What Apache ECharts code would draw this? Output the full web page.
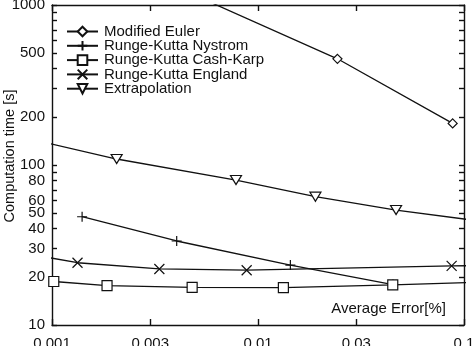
<!DOCTYPE html>
<html>
<head>
<meta charset="utf-8">
<script src="https://cdn.jsdelivr.net/npm/echarts@6/dist/echarts.min.js"></script>
<style>
  html, body { margin: 0; padding: 0; background: #fff; }
  #chart { width: 474px; height: 346px; }
</style>
</head>
<body>
<div id="chart"></div>
<script>
// Average error [%] against computation time [s] for each integrator
const eulerErr   = [0.0035, 0.0243, 0.0881];
const eulerTime  = [1400, 461, 182];
const nystromErr  = [0.0014, 0.00403, 0.01436, 0.0452];
const nystromTime = [47.5, 33.5, 23.7, 17.9];
const cashKarpErr  = [0.00102, 0.00185, 0.00479, 0.01328, 0.0451, 0.15];
const cashKarpTime = [18.7, 17.6, 17.2, 17.1, 17.8, 18.7];
const englandErr  = [0.0007, 0.00133, 0.00332, 0.00881, 0.0871, 0.15];
const englandTime = [28.4, 24.5, 22.4, 22.0, 23.4, 23.6];
const extrapErr  = [0.0007, 0.00206, 0.00782, 0.0190, 0.0468, 0.15];
const extrapTime = [150, 109, 80.5, 63.4, 52.3, 42.9];

const seriesNames = ['Modified Euler', 'Runge-Kutta Nystrom', 'Runge-Kutta Cash-Karp', 'Runge-Kutta England', 'Extrapolation'];

// Axis ticks and labels
const xTickValues = [0.001, 0.003, 0.01, 0.03, 0.1];
const xTickLabels = ['0.001', '0.003', '0.01', '0.03', '0.1'];
const yLabelValues = [10, 20, 30, 40, 50, 60, 80, 100, 200, 500, 1000];
const yLabelTexts = ['10', '20', '30', '40', '50', '60', '80', '100', '200', '500', '1000'];
const yTickValues = [10, 20, 30, 40, 50, 60, 70, 80, 90, 100, 200, 300, 400, 500, 600, 700, 800, 900, 1000];

const FONT = '"Liberation Sans", Arial, sans-serif';
const INK = '#111';

function pairs(xs, ys) { return xs.map((x, i) => [x, ys[i]]); }
function nearestLabel(values, texts) {
  return function (v) {
    let best = 0;
    for (let i = 1; i < values.length; i++) {
      if (Math.abs(Math.log(values[i] / v)) < Math.abs(Math.log(values[best] / v))) best = i;
    }
    return texts[best];
  };
}

const symbols = {
  diamond: 'path://M5,0L10,5L5,10L0,5Z',
  plus: 'path://M0,5H10M5,0V10',
  square: 'path://M0,0H10V10H0Z',
  cross: 'path://M0,0L10,10M10,0L0,10',
  triDown: 'path://M0,0H12L6,10Z'
};

function makeSeries(name, xs, ys, symbol, size) {
  return {
    name: name,
    type: 'line',
    data: pairs(xs, ys),
    symbol: symbol,
    symbolSize: size,
    showAllSymbol: true,
    clip: true,
    lineStyle: { color: INK, width: 1.3 },
    itemStyle: { color: '#fff', borderColor: INK, borderWidth: 1.2 },
    emphasis: { disabled: true },
    animation: false
  };
}

const axisLineStyle = { color: INK, width: 1.4 };

const chart = echarts.init(document.getElementById('chart'));
chart.setOption({
  animation: false,
  grid: { left: 52, right: 10, top: 5, bottom: 21, show: false, outerBoundsMode: 'none', containLabel: false },
  legend: {
    data: seriesNames,
    orient: 'vertical',
    left: 66,
    top: 24,
    padding: 0,
    itemGap: -0.7,
    itemWidth: 31,
    itemHeight: 12,
    textStyle: { fontFamily: FONT, fontSize: 15, color: INK, padding: [0, 0, 0, 1] },
    selectedMode: false
  },
  xAxis: [
    {
      type: 'log', min: 0.001, max: 0.1, position: 'bottom',
      axisLine: { show: true, onZero: false, lineStyle: axisLineStyle },
      axisTick: { show: true, inside: true, length: 6, customValues: xTickValues, lineStyle: axisLineStyle },
      axisLabel: { customValues: xTickValues, formatter: nearestLabel(xTickValues, xTickLabels),
                   fontFamily: FONT, fontSize: 15, color: INK, margin: 11 },
      splitLine: { show: false }, minorTick: { show: false }
    },
    {
      type: 'log', min: 0.001, max: 0.1, position: 'top',
      axisLine: { show: true, onZero: false, lineStyle: axisLineStyle },
      axisTick: { show: true, inside: true, length: 6, customValues: xTickValues, lineStyle: axisLineStyle },
      axisLabel: { show: false },
      splitLine: { show: false }, minorTick: { show: false }
    }
  ],
  yAxis: [
    {
      type: 'log', min: 10, max: 1000, position: 'left',
      axisLine: { show: true, onZero: false, lineStyle: axisLineStyle },
      axisTick: { show: true, inside: true, length: 5, customValues: yTickValues, lineStyle: axisLineStyle },
      axisLabel: { customValues: yLabelValues, formatter: nearestLabel(yLabelValues, yLabelTexts),
                   fontFamily: FONT, fontSize: 15, color: INK, margin: 7 },
      splitLine: { show: false }, minorTick: { show: false }
    },
    {
      type: 'log', min: 10, max: 1000, position: 'right',
      axisLine: { show: true, onZero: false, lineStyle: axisLineStyle },
      axisTick: { show: true, inside: true, length: 5, customValues: yTickValues, lineStyle: axisLineStyle },
      axisLabel: { show: false },
      splitLine: { show: false }, minorTick: { show: false }
    }
  ],
  graphic: [
    {
      type: 'text', x: 10, y: 156, rotation: Math.PI / 2,
      style: { text: 'Computation time [s]', fontFamily: FONT, fontSize: 14.5, fill: INK,
               textAlign: 'center', textVerticalAlign: 'middle' }
    },
    {
      type: 'text', x: 446, y: 309,
      style: { text: 'Average Error[%]', fontFamily: FONT, fontSize: 15, fill: INK,
               textAlign: 'right', textVerticalAlign: 'middle' }
    }
  ],
  series: [
    makeSeries(seriesNames[0], eulerErr, eulerTime, symbols.diamond, 9),
    makeSeries(seriesNames[1], nystromErr, nystromTime, symbols.plus, 10),
    makeSeries(seriesNames[2], cashKarpErr, cashKarpTime, symbols.square, 10),
    makeSeries(seriesNames[3], englandErr, englandTime, symbols.cross, 10),
    makeSeries(seriesNames[4], extrapErr, extrapTime, symbols.triDown, [11, 9])
  ]
});
</script>
</body>
</html>
